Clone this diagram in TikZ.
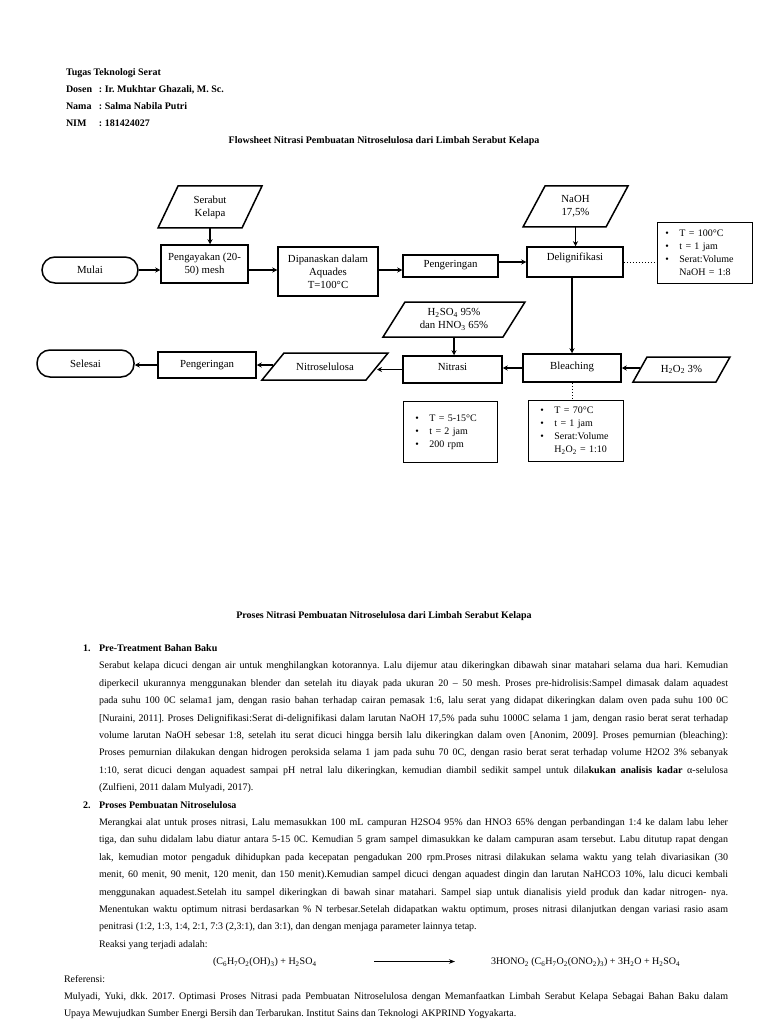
\documentclass[tikz,border=0pt]{standalone}
\usepackage{fontspec}
\setmainfont{Liberation Serif}
\usetikzlibrary{arrows.meta}
\frenchspacing
\newcommand\jl[1]{\hbox to 629pt{#1}}
\newcommand\jlr[1]{\hbox to 664pt{#1}}
\newcommand\nb{\makebox[14pt][l]{•}}
\newcommand\sub[1]{\textsubscript{#1}}
\newcommand\paral[2]{\draw[pline] ([xshift=#2]#1.north west) -- ([xshift=#2]#1.north east) -- ([xshift=-#2]#1.south east) -- ([xshift=-#2]#1.south west) -- cycle;}
\begin{document}
\begin{tikzpicture}[x=1pt,y=-1pt,
 every node/.style={font=\fontsize{10}{12}\selectfont},
 txt/.style={anchor=base west, inner sep=0pt, outer sep=0pt, font=\fontsize{10}{12}\selectfont},
 btxt/.style={txt, font=\fontsize{10}{12}\selectfont\bfseries},
 proc/.style={draw, line width=1.5pt, inner sep=1pt, align=center, font=\fontsize{10.8}{13}\selectfont},
 up/.style={text height=7.5pt, text depth=5pt},
 term/.style={proc, rounded corners=13pt},
 io/.style={inner sep=1pt, outer sep=0pt, align=center, font=\fontsize{10.8}{13}\selectfont},
 pline/.style={line width=1.5pt, line join=miter},
 note/.style={draw, line width=0.8pt, align=left, font=\fontsize{10}{13}\selectfont, anchor=north west},
 arr/.style={line width=1.5pt, -{Stealth[length=5pt,width=5pt]}},
 dotline/.style={line width=0.8pt, dash pattern=on 1.5pt off 1.5pt},
]
\useasboundingbox (0,0) rectangle (768,1024);

% ---------- header ----------
\node[btxt] (h1) at (66,75.5) {Tugas Teknologi Serat};
\node[btxt] (h2) at (66,92.5) {\makebox[33pt][l]{Dosen}: Ir. Mukhtar Ghazali, M. Sc.};
\node[btxt] (h3) at (66,109.5) {\makebox[33pt][l]{Nama}: Salma Nabila Putri};
\node[btxt] (h4) at (66,126.5) {\makebox[33pt][l]{NIM}: 181424027};
\node[btxt, anchor=base] (t1) at (384,143.5) {Flowsheet Nitrasi Pembuatan Nitroselulosa dari Limbah Serabut Kelapa};

% ---------- flowsheet ----------
\node[term, minimum width=96pt, minimum height=26pt] (mulai) at (90,270) {Mulai};
\node[proc, minimum width=87pt, minimum height=38pt] (ayak) at (204.5,264) {Pengayakan (20-\\50) mesh};
\node[proc, minimum width=100pt, minimum height=49pt] (panas) at (328,271.5) {Dipanaskan dalam\\Aquades\\T=100°C};
\node[proc, up, minimum width=95pt, minimum height=22pt] (kering1) at (450.5,266) {Pengeringan};
\node[proc, text height=7.5pt, text depth=10pt, minimum width=96pt, minimum height=30pt] (delig) at (575,262) {Delignifikasi};
\node[proc, up, minimum width=98pt, minimum height=28pt] (bleach) at (572,368) {Bleaching};
\node[proc, up, minimum width=99pt, minimum height=27pt] (nitrasi) at (452.5,369.5) {Nitrasi};
\node[proc, minimum width=98pt, minimum height=26pt] (kering2) at (207,365) {Pengeringan};
\node[term, minimum width=97pt, minimum height=27pt] (selesai) at (85.5,363.5) {Selesai};

\node[io, minimum width=84pt, minimum height=42pt] (serabut) at (210,207) {Serabut\\Kelapa};
\paral{serabut}{10pt}
\node[io, minimum width=83pt, minimum height=41pt] (naoh) at (575.5,206.5) {NaOH\\17,5\%};
\paral{naoh}{11pt}
\node[io, minimum width=120pt, minimum height=35pt] (asam) at (454,319.5) {H\sub2SO\sub4 95\%\\dan HNO\sub3 65\%};
\paral{asam}{11pt}
\node[io, minimum width=83pt, minimum height=25pt] (hpo) at (681.5,369.5) {H\sub2O\sub2 3\%};
\paral{hpo}{7pt}
\node[io, minimum width=104pt, minimum height=27pt] (nitro) at (325,366.5) {Nitroselulosa};
\paral{nitro}{11pt}

\node[note, minimum width=95pt, minimum height=61pt, inner xsep=8pt, text width=79pt] (note1) at (657,222)
  {\nb T = 100°C\\\nb t = 1 jam\\\nb Serat:Volume\\\hspace*{14pt}NaOH = 1:8};
\node[note, minimum width=94pt, minimum height=61pt, inner xsep=12pt, text width=70pt] (noten) at (403,401)
  {\nb T = 5-15°C\\\nb t = 2 jam\\\nb 200 rpm};
\node[note, minimum width=95pt, minimum height=61pt, inner xsep=12pt, text width=71pt] (noteb) at (528,400)
  {\nb T = 70°C\\\nb t = 1 jam\\\nb Serat:Volume\\\hspace*{14pt}H\sub2O\sub2 = 1:10};

\draw[arr] (mulai.east) -- (mulai.east -| ayak.west);
\draw[arr] (ayak.east |- mulai.east) -- (panas.west |- mulai.east);
\draw[arr] (panas.east |- mulai.east) -- (kering1.west |- mulai.east);
\draw[arr] (kering1.east |- delig.east) -- (delig.west);
\draw[arr] (serabut.south) -- (serabut.south |- ayak.north);
\draw[arr] (naoh.south) -- (naoh.south |- delig.north);
\draw[dotline] (delig.east) -- (delig.east -| note1.west);
\draw[arr] (bleach.north |- delig.south) -- (bleach.north);
\draw[arr] (hpo.west |- bleach.east) -- (bleach.east);
\draw[arr] (bleach.west) -- (bleach.west -| nitrasi.east);
\draw[arr] (asam.south) -- (asam.south |- nitrasi.north);
\draw[dotline] (bleach.south) -- (bleach.south |- noteb.north);
\draw[arr] (nitrasi.west) -- (nitrasi.west -| nitro.east);
\draw[arr] (nitro.west |- kering2.east) -- (kering2.east);
\draw[arr] (kering2.west) -- (kering2.west -| selesai.east);

% ---------- text ----------
\node[btxt, anchor=base] (t2) at (384,618.5) {Proses Nitrasi Pembuatan Nitroselulosa dari Limbah Serabut Kelapa};
\node[btxt] (s1) at (83,651.5) {\makebox[16pt][l]{1.}Pre-Treatment Bahan Baku};
\node[txt] (p1) at (99,668.9) {\jl{Serabut kelapa dicuci dengan air untuk menghilangkan kotorannya. Lalu dijemur atau dikeringkan dibawah sinar matahari selama dua hari. Kemudian}};
\node[txt] (p2) at (99,686.3) {\jl{diperkecil ukurannya menggunakan blender dan setelah itu diayak pada ukuran 20 – 50 mesh. Proses pre-hidrolisis:Sampel dimasak dalam aquadest}};
\node[txt] (p3) at (99,703.7) {\jl{pada suhu 100 0C selama1 jam, dengan rasio bahan terhadap cairan pemasak 1:6, lalu serat yang didapat dikeringkan dalam oven pada suhu 100 0C}};
\node[txt] (p4) at (99,721.1) {\jl{[Nuraini, 2011]. Proses Delignifikasi:Serat di-delignifikasi dalam larutan NaOH 17,5\% pada suhu 1000C selama 1 jam, dengan rasio berat serat terhadap}};
\node[txt] (p5) at (99,738.5) {\jl{volume larutan NaOH sebesar 1:8, setelah itu serat dicuci hingga bersih lalu dikeringkan dalam oven [Anonim, 2009]. Proses pemurnian (bleaching):}};
\node[txt] (p6) at (99,755.9) {\jl{Proses pemurnian dilakukan dengan hidrogen peroksida selama 1 jam pada suhu 70 0C, dengan rasio berat serat terhadap volume H2O2 3\% sebanyak}};
\node[txt] (p7) at (99,773.3) {\jl{1:10, serat dicuci dengan aquadest sampai pH netral lalu dikeringkan, kemudian diambil sedikit sampel untuk dila\textbf{kukan analisis kadar} α-selulosa}};
\node[txt] (p8) at (99,790.7) {(Zulfieni, 2011 dalam Mulyadi, 2017).};
\node[btxt] (s2) at (83,808.1) {\makebox[16pt][l]{2.}Proses Pembuatan Nitroselulosa};
\node[txt] (q1) at (99,825.5) {\jl{Merangkai alat untuk proses nitrasi, Lalu memasukkan 100 mL campuran H2SO4 95\% dan HNO3 65\% dengan perbandingan 1:4 ke dalam labu leher}};
\node[txt] (q2) at (99,842.9) {\jl{tiga, dan suhu didalam labu diatur antara 5-15 0C. Kemudian 5 gram sampel dimasukkan ke dalam campuran asam tersebut. Labu ditutup rapat dengan}};
\node[txt] (q3) at (99,860.3) {\jl{lak, kemudian motor pengaduk dihidupkan pada kecepatan pengadukan 200 rpm.Proses nitrasi dilakukan selama waktu yang telah divariasikan (30}};
\node[txt] (q4) at (99,877.7) {\jl{menit, 60 menit, 90 menit, 120 menit, dan 150 menit).Kemudian sampel dicuci dengan aquadest dingin dan larutan NaHCO3 10\%, lalu dicuci kembali}};
\node[txt] (q5) at (99,895.1) {\jl{menggunakan aquadest.Setelah itu sampel dikeringkan di bawah sinar matahari. Sampel siap untuk dianalisis yield produk dan kadar nitrogen- nya.}};
\node[txt] (q6) at (99,912.5) {\jl{Menentukan waktu optimum nitrasi berdasarkan \% N terbesar.Setelah didapatkan waktu optimum, proses nitrasi dilanjutkan dengan variasi rasio asam}};
\node[txt] (q7) at (99,929.9) {penitrasi (1:2, 1:3, 1:4, 2:1, 7:3 (2,3:1), dan 3:1), dan dengan menjaga parameter lainnya tetap.};
\node[txt] (q8) at (99,947.3) {Reaksi yang terjadi adalah:};
\node[txt] (eq1) at (213,964.7) {(C\sub6H\sub7O\sub2(OH)\sub3) + H\sub2SO\sub4};
\coordinate (ea) at (374,961.5);
\coordinate (eb) at (455,961.5);
\draw[line width=0.8pt, -{Stealth[length=6pt,width=4.5pt]}] (ea) -- (eb);
\node[txt] (eq2) at (491,964.7) {3HONO\sub2 (C\sub6H\sub7O\sub2(ONO\sub2)\sub3) + 3H\sub2O + H\sub2SO\sub4};
\node[txt] (r0) at (64,982.1) {Referensi:};
\node[txt] (r1) at (64,999.5) {\jlr{Mulyadi, Yuki, dkk. 2017. Optimasi Proses Nitrasi pada Pembuatan Nitroselulosa dengan Memanfaatkan Limbah Serabut Kelapa Sebagai Bahan Baku dalam}};
\node[txt] (r2) at (64,1016.9) {Upaya Mewujudkan Sumber Energi Bersih dan Terbarukan. Institut Sains dan Teknologi AKPRIND Yogyakarta.};
\end{tikzpicture}
\end{document}
